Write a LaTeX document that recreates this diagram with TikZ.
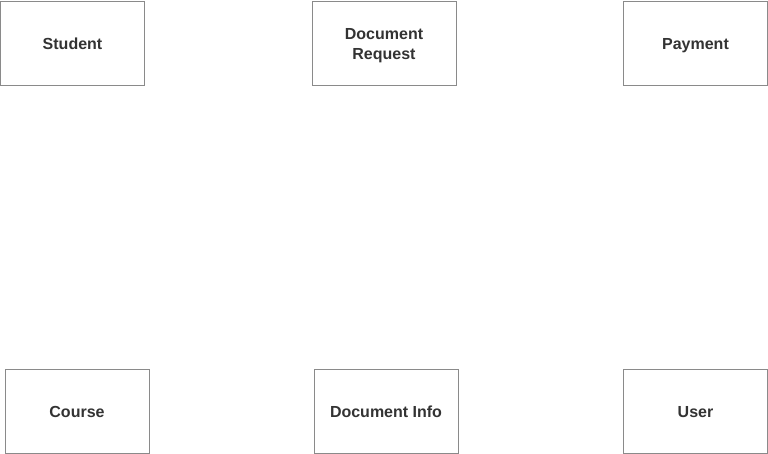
\documentclass[tikz,border=0pt]{standalone}
\usepackage{fontspec}
\setmainfont{Liberation Sans}
\definecolor{boxgray}{HTML}{8A8A8A}
\definecolor{textgray}{HTML}{333333}

\begin{document}
\begin{tikzpicture}[x=1pt,y=-1pt,
		entitybox/.style={draw=boxgray,line width=0.9pt,fill=white,minimum width=144pt,minimum height=84pt,inner sep=0pt,align=center,text height=16pt,text depth=2.5pt,text=textgray,font=\fontsize{16}{20}\selectfont\bfseries}]
			% Rahmen festlegen
			\useasboundingbox (0,0) rectangle (768,454);
			
			% obere Reihe
			\node[entitybox] (student) at (72.5,43) {Student};
			\node[entitybox,text height=36pt,text depth=3.5pt] (docrequest) at (384,43.5) {Document\\Request};
			\node[entitybox] (payment) at (695.5,43) {Payment};
			
			% untere Reihe
			\node[entitybox] (course) at (77,411) {Course};
			\node[entitybox] (docinfo) at (386,411) {Document Info};
			\node[entitybox] (user) at (695.5,411) {User};
	\end{tikzpicture}
\end{document}
